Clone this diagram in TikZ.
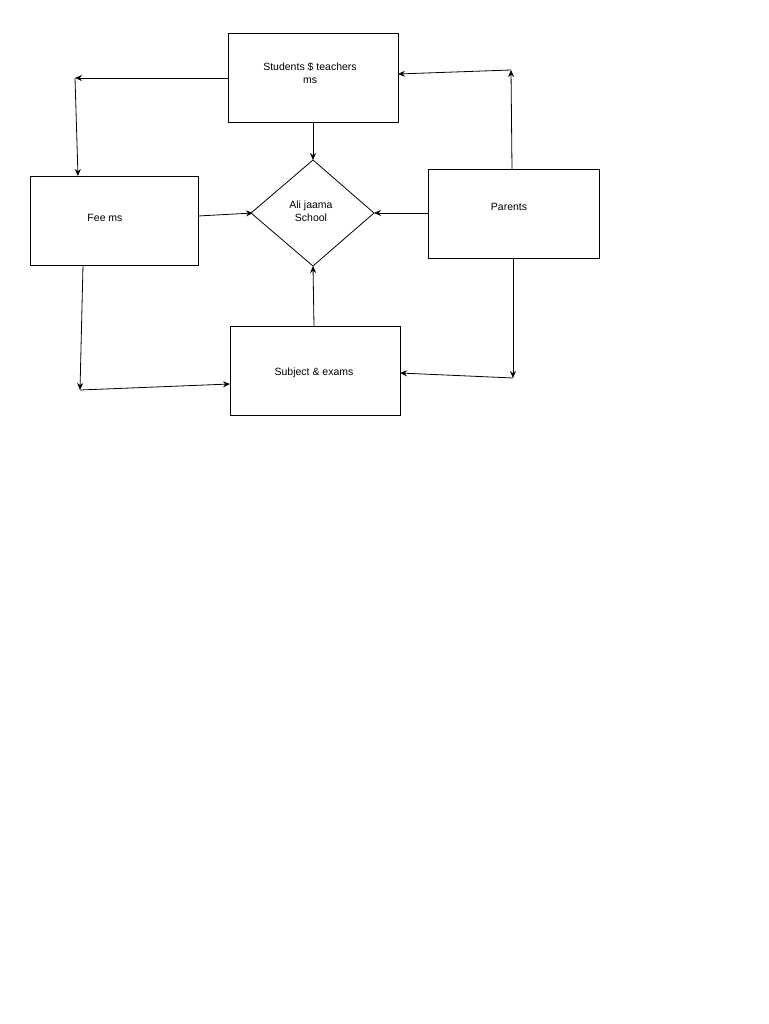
\documentclass[tikz,border=0pt]{standalone}
\usepackage{fontspec}
\usetikzlibrary{arrows.meta}
\setmainfont{Liberation Sans}
\begin{document}
\begin{tikzpicture}[x=1pt,y=-1pt,
 arr/.style={-{Stealth[length=7pt,width=6pt]},line width=0.8pt},
 lbl/.style={font=\fontsize{10.5}{12.5}\selectfont,align=center}]
\useasboundingbox (0,0) rectangle (768,1024);
\draw[line width=0.8pt] (228,33) rectangle (398,122);
\node[lbl] (st) at (310,73) {Students \$ teachers\\ms};
\draw[line width=0.8pt] (30,176) rectangle (198,265);
\node[lbl] (fee) at (105,218) {Fee ms};
\draw[line width=0.8pt] (428,169) rectangle (599,258);
\node[lbl] (par) at (509,207) {Parents};
\draw[line width=0.8pt] (230,326) rectangle (400,415);
\node[lbl] (sub) at (314,373) {Subject \& exams};
\draw[line width=0.8pt] (313,160) -- (374,213) -- (313,266) -- (251,213) -- cycle;
\node[lbl] (d) at (311,211) {Ali jaama\\School};
\coordinate (a1) at (75,78);
\coordinate (a2) at (80,390);
\coordinate (a3) at (511,70);
\coordinate (a4) at (513,378);
\draw[arr] (228,78) -- (a1);
\draw[arr] (a1) -- (78,176);
\draw[arr] (313,122) -- (313,160);
\draw[arr] (198,216) -- (253,213);
\draw[arr] (428,213) -- (374,213);
\draw[arr] (314,326) -- (313,266);
\draw[arr] (83,265) -- (a2);
\draw[arr] (a2) -- (230,384);
\draw[arr] (512,169) -- (a3);
\draw[arr] (a3) -- (398,74);
\draw[arr] (513,258) -- (a4);
\draw[arr] (a4) -- (400,373);
\end{tikzpicture}
\end{document}
